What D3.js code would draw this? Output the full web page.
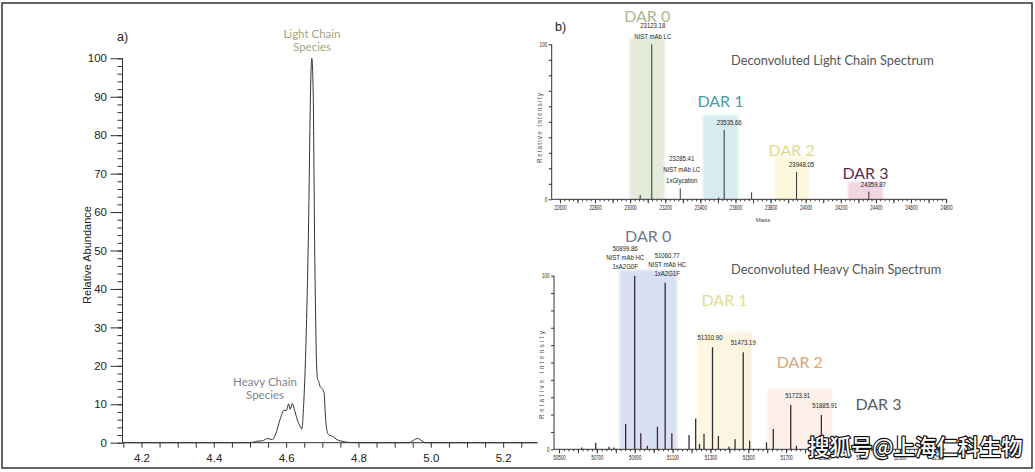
<!DOCTYPE html>
<html>
<head>
<meta charset="utf-8">
<script src="https://cdn.jsdelivr.net/npm/d3@7"></script>
<style>
  body { margin: 0; background: #fff; }
  svg { display: block; font-family: "Liberation Sans", Arial, sans-serif; }
  .axis path, .axis line { stroke: #333; }
  .axis text { fill: #222; }
</style>
</head>
<body>
<div id="chart"></div>
<script>
// ---- panel a: chromatogram ----
var chromTime  = [4.147, 4.50, 4.52, 4.535, 4.548, 4.562, 4.57, 4.584, 4.594, 4.600, 4.607, 4.611, 4.617, 4.622, 4.631, 4.640, 4.643,
                  4.649, 4.655, 4.663, 4.666, 4.669, 4.671, 4.675, 4.677, 4.679, 4.682, 4.684, 4.687, 4.690, 4.693, 4.698, 4.705,
                  4.708, 4.711, 4.718, 4.725, 4.73, 4.74, 4.75, 4.77, 4.80, 4.94, 4.955, 4.963, 4.972, 4.985, 5.295];
var chromAbund = [0, 0, 0.4, 0.5, 1.1, 0.8, 2.0, 6.3, 8.5, 8.3, 10.1, 8.7, 10.2, 8.9, 5.9, 4.0, 3.5,
                  11, 26.7, 63, 84, 97, 100, 90, 70, 50, 30, 20.7, 16.5, 16, 14.8, 14.2, 13,
                  8, 4.2, 2.0, 1.8, 1.6, 0.8, 0.5, 0.1, 0, 0, 0.8, 1.1, 0.7, 0, 0];
var chromXLabels = [4.2, 4.4, 4.6, 4.8, 5.0, 5.2];

// ---- panel b: deconvoluted light chain ----
var lcMass = [23057, 23123.18, 23285.41, 23505, 23535.66, 23692, 23948.05, 24359.87];
var lcInt  = [2.8, 100, 7.1, 1.2, 44.7, 4.5, 17.6, 5];
var lcLabelMass  = [23123.18, 23285.41, 23535.66, 23948.05, 24359.87];
var lcLabelLines = [["23123.18", "NIST mAb LC"], ["23285.41", "NIST mAb LC", "1xGlycation"], ["23535.66"], ["23948.05"], ["24359.87"]];
var lcDarNames = ["DAR 0", "DAR 1", "DAR 2", "DAR 3"];
var lcDarFrom  = [22997, 23415, 23823, 24241];
var lcDarTo    = [23197, 23614, 24017, 24440];
var lcDarTop   = [104, 54.4, 27.5, 11.4];
var lcDarLabelLevel = [114.5, 59.7, 28.1, 13.4];

// ---- panel b: deconvoluted heavy chain ----
var hcMass = [50620, 50694, 50764, 50790, 50852, 50899.86, 50932, 50967, 51020, 51060.77, 51096, 51187, 51222, 51242, 51266,
              51310.90, 51342, 51398, 51430, 51473.19, 51507, 51596, 51632, 51723.91, 51754, 51885.91, 51910, 52288];
var hcInt  = [1, 3.8, 1.5, 1, 14.6, 100, 9.2, 2, 13, 96, 9.2, 8.2, 17.8, 3, 9,
              58.8, 7.7, 1.5, 5.8, 55.9, 5, 4, 11.7, 25.5, 2, 19.8, 1.5, 8];
var hcLabelMass  = [50899.86, 51060.77, 51310.90, 51473.19, 51723.91, 51885.91];
var hcLabelLines = [["50899.86", "NIST mAb HC", "1xA2G0F"], ["51060.77", "NIST mAb HC", "1xA2G1F"], ["51310.90"], ["51473.19"], ["51723.91"], ["51885.91"]];
var hcDarNames = ["DAR 0", "DAR 1", "DAR 2", "DAR 3"];
var hcDarFrom  = [50819, 51229, 51601, 52080];
var hcDarTo    = [51123, 51520, 51943, 52295];
var hcDarTop   = [103.3, 67.7, 35.1, 20];
var hcDarLabelLevel = [119.7, 82.7, 47.1, 22.6];

// styles
var lcDarFill = ["#e4eada", "#d6ecf1", "#fbf8db", "#f3d6e1"];
var lcDarText = ["#a9b98f", "#4c9aa8", "#e0dc8c", "#5b2f4a"];
var hcDarFill = ["#dae0f3", "url(#dar1grad)", "#fcf0e9", "none"];
var hcDarText = ["#6b7a8d", "#e5dc8e", "#d9a77c", "#555d68"];
var lcLabelDx = [1, 1.5, 5, 5, 4.5];
var hcLabelDx = [-9.5, 2, -2.5, 0, 7, 3.5];

var svg = d3.select("#chart").append("svg")
    .attr("width", 1035)
    .attr("height", 472);

var defs = svg.append("defs");
var grad = defs.append("linearGradient").attr("id", "dar1grad");
grad.append("stop").attr("offset", "0%").attr("stop-color", "#fef9e3");
grad.append("stop").attr("offset", "100%").attr("stop-color", "#fcf1df");
defs.append("filter").attr("id", "soft")
    .attr("color-interpolation-filters", "sRGB")
  .append("feGaussianBlur").attr("stdDeviation", 0.8);

// condense small instrument-style text
function squeeze(sel, k) {
  sel.each(function() {
    var w = this.getComputedTextLength();
    d3.select(this).attr("textLength", w * k).attr("lengthAdjust", "spacingAndGlyphs");
  });
}

// frame
svg.append("rect")
    .attr("x", 2).attr("y", 3)
    .attr("width", 1030).attr("height", 465)
    .attr("fill", "none")
    .attr("stroke", "#333")
    .attr("stroke-width", 1.5);

// ================= panel a =================
var xa = d3.scaleLinear().domain([4.1475, 5.295]).range([122.5, 537.5]);
var ya = d3.scaleLinear().domain([0, 100]).range([442.7, 58.3]);

var pa = svg.append("g");

pa.append("g")
    .attr("class", "axis")
    .attr("transform", "translate(0," + ya(0) + ")")
    .call(d3.axisBottom(xa).tickValues(d3.range(4.15, 5.27, 0.05)).tickSize(5).tickFormat(""))
    .call(g => g.select(".domain").attr("d", "M" + xa.range()[0] + ",0H" + xa.range()[1]));

pa.append("g")
    .attr("class", "axis")
    .attr("transform", "translate(0," + ya(0) + ")")
    .call(d3.axisBottom(xa).tickValues(chromXLabels).tickSize(0).tickPadding(11).tickFormat(d3.format(".1f")))
    .call(g => g.select(".domain").remove())
    .selectAll("text").style("font-size", "11.5px");

pa.append("g")
    .attr("class", "axis")
    .attr("transform", "translate(" + xa.range()[0] + ",0)")
    .call(d3.axisLeft(ya).tickValues(d3.range(0, 101, 2)).tickSize(5).tickFormat(""))
    .call(g => g.select(".domain").attr("d", "M0," + ya(0) + "V" + ya(100)));

pa.append("g")
    .attr("class", "axis")
    .attr("transform", "translate(" + xa.range()[0] + ",0)")
    .call(d3.axisLeft(ya).tickValues(d3.range(0, 101, 10)).tickSize(12).tickPadding(3.5))
    .call(g => g.select(".domain").remove())
    .selectAll("text").style("font-size", "11.5px");

pa.append("path")
    .datum(d3.range(chromTime.length))
    .attr("fill", "none")
    .attr("stroke", "#333")
    .attr("stroke-width", 1)
    .attr("d", d3.line()
        .x(i => xa(chromTime[i]))
        .y(i => ya(chromAbund[i]))
        .curve(d3.curveMonotoneX));

pa.append("text")
    .attr("transform", "translate(91,255) rotate(-90)")
    .attr("text-anchor", "middle")
    .style("font-size", "11px")
    .attr("fill", "#222")
    .text("Relative Abundance");

pa.append("text").attr("x", 117).attr("y", 41).style("font-size", "12.5px").attr("fill", "#222").text("a)");

pa.append("g")
    .attr("fill", "#9ea884")
    .style("font-family", "Lato, sans-serif")
    .style("font-size", "11.5px")
    .attr("text-anchor", "middle")
    .selectAll("text")
    .data(["Light Chain", "Species"])
    .enter().append("text")
      .attr("x", 312)
      .attr("y", (d, i) => 38 + i * 13)
      .text(d => d);

pa.append("g")
    .attr("fill", "#7d8590")
    .style("font-family", "Lato, sans-serif")
    .style("font-size", "11.5px")
    .attr("text-anchor", "middle")
    .selectAll("text")
    .data(["Heavy Chain", "Species"])
    .enter().append("text")
      .attr("x", 265)
      .attr("y", (d, i) => 386 + i * 13)
      .text(d => d);

// ================= panel b =================
function spectrum(opt) {
  var x = opt.x, y = opt.y;
  var g = svg.append("g");

  g.selectAll(".dar")
      .data(opt.darNames)
    .enter().append("rect")
      .attr("class", "dar")
      .attr("x", (d, i) => x(opt.darFrom[i]))
      .attr("y", (d, i) => y(opt.darTop[i]))
      .attr("width", (d, i) => x(opt.darTo[i]) - x(opt.darFrom[i]))
      .attr("height", (d, i) => y(0) - y(opt.darTop[i]))
      .attr("fill", (d, i) => opt.darFill[i])
      .attr("filter", "url(#soft)");

  g.selectAll(".darlabel")
      .data(opt.darNames)
    .enter().append("text")
      .attr("class", "darlabel")
      .attr("x", (d, i) => x((opt.darFrom[i] + opt.darTo[i]) / 2))
      .attr("y", (d, i) => y(opt.darLabelLevel[i]))
      .attr("text-anchor", "middle")
      .style("font-family", "Lato, sans-serif")
      .style("font-size", "16px")
      .attr("fill", (d, i) => opt.darText[i])
      .text(d => d);

  // x axis
  var xEnd = x.range()[1];
  g.append("g")
      .attr("class", "axis")
      .attr("transform", "translate(0," + y(0) + ")")
      .call(d3.axisBottom(x).tickValues(d3.range(opt.tickStart, x.domain()[1] + 1, 25)).tickSize(2).tickFormat(""))
      .call(a => a.select(".domain").attr("d", "M" + x.range()[0] + ",0H" + xEnd));
  g.append("g")
      .attr("class", "axis")
      .attr("transform", "translate(0," + y(0) + ")")
      .call(d3.axisBottom(x).tickValues(d3.range(opt.tickStart, x.domain()[1] + 1, 100)).tickSize(4).tickPadding(2.5).tickFormat((d, i) => i % 2 ? "" : d3.format("d")(d)))
      .call(a => a.select(".domain").remove())
      .selectAll("text").style("font-size", "6.5px").call(squeeze, 0.68);

  // y axis
  g.append("g")
      .attr("class", "axis")
      .attr("transform", "translate(" + x.range()[0] + ",0)")
      .call(d3.axisLeft(y).tickValues(d3.range(0, 101, 10)).tickSize(3).tickPadding(1.5).tickFormat(d => (d === 0 || d === 100) ? d : ""))
      .call(a => a.select(".domain").attr("d", "M0," + y(0) + "V" + y(100)))
      .selectAll("text").style("font-size", "6.5px").call(squeeze, 0.7);

  g.append("text")
      .attr("transform", "translate(" + (x.range()[0] - 10) + "," + opt.yLabelMid + ") rotate(-90)")
      .attr("text-anchor", "middle")
      .style("font-size", "6.5px")
      .attr("fill", "#555")
      .attr("textLength", opt.yLabelLen)
      .attr("lengthAdjust", "spacing")
      .text("Relative Intensity");

  // sticks
  g.selectAll(".stick")
      .data(opt.mass)
    .enter().append("line")
      .attr("class", "stick")
      .attr("x1", d => x(d)).attr("x2", d => x(d))
      .attr("y1", y(0))
      .attr("y2", (d, i) => y(opt.inten[i]))
      .attr("stroke", opt.stickColor)
      .attr("stroke-width", opt.stickWidth);

  // peak labels
  opt.labelMass.forEach(function(m, i) {
    var top = y(opt.inten[opt.mass.indexOf(m)]);
    var lines = opt.labelLines[i];
    g.append("g")
        .attr("text-anchor", "middle")
        .style("font-size", "7.5px")
        .attr("fill", "#222")
      .selectAll("text")
      .data(lines)
      .enter().append("text")
        .attr("x", x(m) + opt.labelDx[i])
        .attr("y", (d, j) => top - opt.labelGap - (lines.length - 1 - j) * opt.labelStep)
        .text(d => d)
        .call(squeeze, 0.8);
  });

  g.append("text")
      .attr("x", opt.titleX)
      .attr("y", opt.titleY)
      .style("font-family", "Lato, sans-serif")
      .style("font-size", "12.8px")
      .attr("fill", "#555")
      .text(opt.title);

  return g;
}

var xl = d3.scaleLinear().domain([22553, 24800]).range([551.7, 946.1]);
var yl = d3.scaleLinear().domain([0, 100]).range([199.3, 44.3]);
spectrum({
  x: xl, y: yl, tickStart: 22600,
  mass: lcMass, inten: lcInt, stickColor: "#333", stickWidth: 1,
  labelMass: lcLabelMass, labelLines: lcLabelLines, labelDx: lcLabelDx, labelGap: 5, labelStep: 11,
  darNames: lcDarNames, darFrom: lcDarFrom, darTo: lcDarTo, darTop: lcDarTop,
  darLabelLevel: lcDarLabelLevel, darFill: lcDarFill, darText: lcDarText,
  yLabelMid: 128, yLabelLen: 70,
  title: "Deconvoluted Light Chain Spectrum", titleX: 731, titleY: 65
});

svg.append("text")
    .attr("x", 763).attr("y", 222)
    .attr("text-anchor", "middle")
    .style("font-size", "6px")
    .attr("fill", "#444")
    .text("Mass");

var xh = d3.scaleLinear().domain([50473.6, 52540]).range([554, 945.2]);
var yh = d3.scaleLinear().domain([0, 100]).range([449.3, 275.7]);
spectrum({
  x: xh, y: yh, tickStart: 50500,
  mass: hcMass, inten: hcInt, stickColor: "#3b2b37", stickWidth: 1.3,
  labelMass: hcLabelMass, labelLines: hcLabelLines, labelDx: hcLabelDx, labelGap: 7, labelStep: 9,
  darNames: hcDarNames, darFrom: hcDarFrom, darTo: hcDarTo, darTop: hcDarTop,
  darLabelLevel: hcDarLabelLevel, darFill: hcDarFill, darText: hcDarText,
  yLabelMid: 375, yLabelLen: 88,
  title: "Deconvoluted Heavy Chain Spectrum", titleX: 731, titleY: 274
});

svg.append("text").attr("x", 555).attr("y", 31).style("font-size", "12.5px").attr("fill", "#222").text("b)");

// watermark (sits over the heavy chain axis, as in the source image)
svg.append("text")
    .attr("x", 808).attr("y", 455)
    .style("font-family", "'Noto Sans CJK SC', sans-serif")
    .style("font-size", "21.5px")
    .style("font-weight", "500")
    .attr("fill", "#fff")
    .attr("stroke", "#111")
    .attr("stroke-width", 2.5)
    .attr("paint-order", "stroke")
    .attr("stroke-linejoin", "round")
    .text("搜狐号@上海仁科生物");
</script>
</body>
</html>
